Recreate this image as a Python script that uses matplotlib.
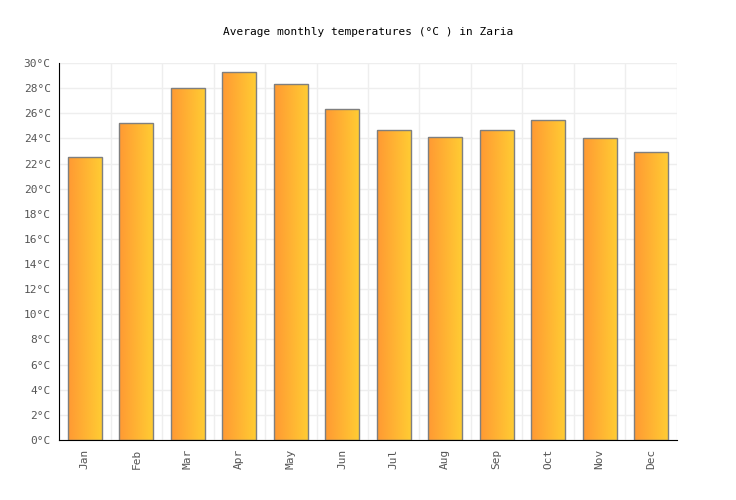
import matplotlib
matplotlib.use('Agg')
import matplotlib.pyplot as plt
import numpy as np
from matplotlib.colors import LinearSegmentedColormap

months = ['Jan', 'Feb', 'Mar', 'Apr', 'May', 'Jun', 'Jul', 'Aug', 'Sep', 'Oct', 'Nov', 'Dec']
temps = [22.55, 25.25, 28.05, 29.3, 28.3, 26.3, 24.7, 24.15, 24.7, 25.5, 24.0, 22.95]
yticks = list(range(0, 31, 2))
ytick_labels = [f'{t}°C' for t in yticks]

plt.rcParams['font.family'] = ['DejaVu Sans Mono']

fig = plt.figure(figsize=(7.36, 5), dpi=100)
ax = fig.add_axes([0.0802, 0.12, 0.8396, 0.754])

x = np.arange(len(months))
bars = ax.bar(x, temps, width=0.66, color='none', edgecolor='#7f7f7f', linewidth=1, zorder=3)

# horizontal gradient inside each bar
cmap = LinearSegmentedColormap.from_list('orangey', ['#ff9933', '#ffcc33'])
grad = np.linspace(0, 1, 256).reshape(1, -1)
for b in bars:
    x0, w, h = b.get_x(), b.get_width(), b.get_height()
    im = ax.imshow(grad, cmap=cmap, aspect='auto', extent=[x0, x0 + w, 0, h], zorder=2)
    im.set_clip_path(b)

ax.set_xlim(-0.5, len(months) - 0.5)
ax.set_ylim(0, 30)
ax.set_xticks(x)
ax.set_xticklabels(months, rotation=90, fontsize=8, color='#555555')
ax.set_yticks(yticks)
ax.set_yticklabels(ytick_labels, fontsize=8, color='#555555')
ax.set_xticks(np.arange(-0.5, len(months), 1), minor=True)
ax.tick_params(axis='both', which='both', length=0, pad=6)

ax.grid(True, axis='y', color='#eeeeee', linewidth=1, zorder=0)
ax.grid(True, axis='x', which='minor', color='#eeeeee', linewidth=1, zorder=0)

for s in ['top', 'right']:
    ax.spines[s].set_visible(False)
ax.spines['left'].set_color('black')
ax.spines['bottom'].set_color('black')
ax.spines['left'].set_zorder(4)
ax.spines['bottom'].set_zorder(4)

fig.text(0.5, 0.936, 'Average monthly temperatures (°C ) in Zaria', ha='center', va='center', fontsize=8, color='black')

fig.savefig('out.png', dpi=100)
